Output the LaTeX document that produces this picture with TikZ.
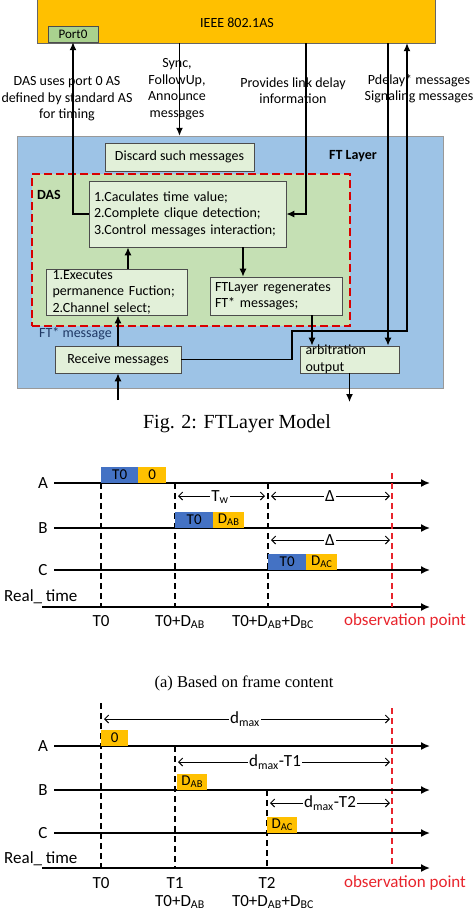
\documentclass[tikz,border=0pt]{standalone}
\usepackage{fontspec}
\setmainfont{Carlito}
\newfontfamily\capfont{Liberation Serif}
\usetikzlibrary{arrows.meta}
\definecolor{ieeeyellow}{HTML}{FFC000}
\definecolor{ftblue}{HTML}{9DC3E6}
\definecolor{dasgreen}{HTML}{C5E0B4}
\definecolor{boxgreen}{HTML}{E2F0D9}
\definecolor{portgreen}{HTML}{A9D18E}
\definecolor{frameblue}{HTML}{4472C4}
\definecolor{obsred}{HTML}{E8242C}
\definecolor{navy}{HTML}{1F3864}
\newcommand\sub[1]{\textsubscript{#1}}
\tikzset{
  box/.style={draw=black!70, fill=boxgreen, line width=0.8pt, inner sep=0pt},
  arr/.style={-{Latex[length=8pt,width=7pt]}, line width=1.2pt},
  tl/.style={-{Latex[length=9pt,width=8pt]}, line width=1.6pt},
  vdash/.style={dashed, dash pattern=on 6pt off 4pt, line width=1.1pt},
  span/.style={{Straight Barb[length=4pt,width=8pt]}-{Straight Barb[length=4pt,width=8pt]}, line width=1pt},
  lbl/.style={font=\fontsize{17}{19}\selectfont},
  spanlbl/.style={font=\fontsize{17}{19}\selectfont, fill=white, inner sep=1.5pt},
  blk/.style={fill=frameblue, inner sep=0pt, minimum height=16pt, anchor=south west, font=\fontsize{15}{17}\selectfont},
  ylw/.style={fill=ieeeyellow, inner sep=0pt, minimum height=16pt, anchor=south west, font=\fontsize{15}{17}\selectfont},
}
\begin{document}
\begin{tikzpicture}[x=1pt,y=-1pt,font=\fontsize{14}{16.5}\selectfont]
\useasboundingbox (0,0) rectangle (474,911);

\node[draw=black!60, fill=ieeeyellow, minimum width=398, minimum height=45, inner sep=0pt] (ieee) at (236,20.5) {};
\node (ieeetitle) at (237,23) {IEEE 802.1AS};
\node[draw=black!70, fill=portgreen, minimum width=50, minimum height=16, inner sep=0pt, font=\fontsize{13}{15}\selectfont] (port0) at (73,34) {Port0};

\node[align=center] (dasuse) at (67,99) {DAS uses port 0 AS\\defined by standard AS\\for timing};
\node[align=center] (sync) at (177,89) {Sync,\\FollowUp,\\Announce\\messages};
\node[align=center] (link) at (293,90.5) {Provides link delay\\information};
\node[align=center] (pdelay) at (419,88.5) {Pdelay* messages\\Signaling messages};

\node[draw=black!40, fill=ftblue, minimum width=426, minimum height=252, inner sep=0pt] (ftl) at (230,262) {};
\node[font=\bfseries\fontsize{14}{16}\selectfont] (ftlabel) at (353,156) {FT Layer};
\node[box, minimum width=149, minimum height=28] (discard) at (179.5,157) {Discard such messages};
\node[draw=red!85!black, dashed, dash pattern=on 8pt off 4pt, line width=1.2pt, fill=dasgreen, minimum width=318, minimum height=152, inner sep=0pt] (das) at (191,250) {};
\node[font=\bfseries\fontsize{14}{16}\selectfont] (daslabel) at (49,195) {DAS};
\node[box, minimum width=197, minimum height=66, text width=187, align=left] (calc) at (187.5,214) {1.Caculates time value;\\2.Complete clique detection;\\3.Control messages interaction;};
\node[box, minimum width=141, minimum height=46, text width=128, align=left, inner ysep=-1pt] (exec) at (116.5,292) {1.Executes\\permanence Fuction;\\2.Channel select;};
\node[box, minimum width=132, minimum height=38, text width=122, align=left] (regen) at (276,296) {FTLayer regenerates\\FT* messages;};
\node[text=navy, anchor=west, inner sep=0pt] (ftmsg) at (39,334) {FT* message};
\node[box, minimum width=126, minimum height=27] (recv) at (118,359.5) {Receive messages};
\node[box, minimum width=99, minimum height=27, text width=88, align=left, inner ysep=-2pt] (arb) at (349.5,359.5) {arbitration\\output};

\coordinate (lnk) at (306,0);
\coordinate (pdl) at (388,0);
\coordinate (bend) at (292,331);
\coordinate (sig) at (407,331);
\coordinate (c2r) at ([xshift=55.5pt]calc.south);
\coordinate (e2c) at ([xshift=11.5pt]exec.north);
\coordinate (r2a) at ([xshift=36pt]regen.south);
\coordinate (inp) at (118,400);
\coordinate (out) at (349.5,402);

\draw[arr] (calc.west) -| (port0.south);
\draw[arr] (ieee.south -| discard.north) -- (ftl.north -| discard.north);
\draw[arr] (ieee.south -| lnk) |- (calc.east);
\draw[arr] (ieee.south -| pdl) -- (arb.north -| pdl);
\draw[arr] (recv.east) -| (bend) -- (sig) -- (ieee.south -| sig);
\draw[arr] (c2r) -- (c2r |- regen.north);
\draw[arr] (e2c) -- (e2c |- calc.south);
\draw[arr] (recv.north) -- (recv.north |- exec.south);
\draw[arr] (inp) -- (recv.south);
\draw[arr] (r2a) -- (r2a |- arb.north);
\draw[arr] (arb.south) -- (out);

\node[font=\capfont\fontsize{20}{22}\selectfont] (cap1) at (237,424) {Fig. 2: FTLayer Model};

\foreach \y/\n in {483/A,528/B,570/C} {
  \node[lbl] (lab\n) at (43,\y) {\n};
  \draw[tl] (54,\y) -- (430,\y);
}
\node[lbl, anchor=west, inner sep=0pt] (rt1) at (4,597) {Real\_ time};
\draw[tl] (42,607) -- (430,607);
\foreach \x in {101,175,268}
  \draw[vdash] (\x,483) -- (\x,607);
\draw[vdash, obsred] (392,473) -- (392,607);

\node[blk, minimum width=37] (a0) at (101,483) {T0};
\node[ylw, minimum width=28] (a1) at (138,483) {0};
\node[blk, minimum width=38] (b0) at (175,528) {T0};
\node[ylw, minimum width=31] (b1) at (213,528) {D\sub{AB}};
\node[blk, minimum width=38] (c0) at (268,570) {T0};
\node[ylw, minimum width=31] (c1) at (306,570) {D\sub{AC}};

\draw[span] (178,496) -- (265,496);
\node[spanlbl] (tw) at (220,497) {T\sub{w}};
\draw[span] (271,496) -- (390,496);
\node[spanlbl] (delta1) at (330,496) {Δ};
\draw[span] (271,540) -- (390,540);
\node[spanlbl] (delta2) at (330,540) {Δ};

\node[lbl] (t0a) at (101,621) {T0};
\node[lbl] (t1a) at (180,622) {T0+D\sub{AB}};
\node[lbl] (t2a) at (273,622) {T0+D\sub{AB}+D\sub{BC}};
\node[lbl, text=obsred] (obsa) at (405,621) {observation point};

\node[font=\capfont\fontsize{16.5}{18}\selectfont] (cap2) at (244,683) {(a) Based on frame content};

\draw[vdash] (101,703) -- (101,868);
\draw[vdash] (175,746) -- (175,868);
\draw[vdash] (267,790) -- (267,868);
\draw[vdash, obsred] (392,708) -- (392,868);
\foreach \y/\n in {746/A,790/B,833/C} {
  \node[lbl] (labb\n) at (43,\y) {\n};
  \draw[tl] (54,\y) -- (430,\y);
}
\node[lbl, anchor=west, inner sep=0pt] (rt2) at (4,859) {Real\_ time};
\draw[tl] (42,868) -- (430,868);

\node[ylw, minimum width=27] (a2) at (101,746) {0};
\node[ylw, minimum width=30] (b2) at (177,790) {D\sub{AB}};
\node[ylw, minimum width=30] (c2) at (267,833) {D\sub{AC}};

\draw[span] (104,719) -- (390,719);
\node[spanlbl] (dmax) at (245,719) {d\sub{max}};
\draw[span] (178,762) -- (390,762);
\node[spanlbl] (dmax1) at (275,762) {d\sub{max}-T1};
\draw[span] (270,803) -- (390,803);
\node[spanlbl] (dmax2) at (330,803) {d\sub{max}-T2};

\node[lbl] (t0b) at (101,883) {T0};
\node[lbl] (t1b) at (175,883) {T1};
\node[lbl] (t2b) at (267,883) {T2};
\node[lbl, text=obsred] (obsb) at (405,883) {observation point};
\node[lbl] (t1c) at (180,902) {T0+D\sub{AB}};
\node[lbl] (t2c) at (273,902) {T0+D\sub{AB}+D\sub{BC}};
\end{tikzpicture}
\end{document}
